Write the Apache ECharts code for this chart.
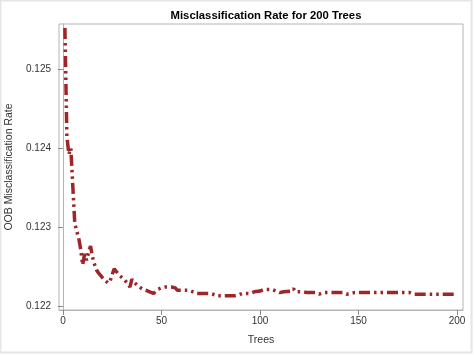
<!DOCTYPE html>
<html>
<head>
<meta charset="utf-8">
<script src="https://cdn.jsdelivr.net/npm/echarts@6/dist/echarts.min.js"></script>
<style>
html,body{margin:0;padding:0;background:#fff;}
#c{width:474px;height:355px;}
</style>
</head>
<body>
<div id="c"></div>
<script>
const titleText = "Misclassification Rate for 200 Trees";
const xName = "Trees";
const yName = "OOB Misclassification Rate";
const trees = [1,2,3,4,5,6,7,8,9,10,11,12,13,14,15,16,17,18,19,20,21,22,23,24,25,26,27,28,29,30,31,32,33,34,35,36,37,38,39,40,42,44,46,47,48,50,52,55,57,58,64,66,68,74,76,78,87,89,91,95,97,100,102,106,108,110,112,116,117,118,122,124,128,130,132,142,144,146,148,176,178,200];
const rates = [0.12552,0.12415,0.12392,0.12400,0.12352,0.12305,0.12295,0.12286,0.12272,0.12252,0.12266,0.12258,0.12268,0.12276,0.12262,0.12253,0.12246,0.12242,0.12239,0.12236,0.12233,0.12231,0.12229,0.12232,0.12240,0.12247,0.12244,0.12242,0.12238,0.12236,0.12234,0.12231,0.12228,0.12224,0.12234,0.12230,0.12228,0.12226,0.12224,0.12222,0.12220,0.12218,0.12216,0.12216,0.12221,0.12223,0.12224,0.12224,0.12223,0.12220,0.12220,0.12218,0.12216,0.12216,0.12215,0.12213,0.12213,0.12214,0.12216,0.12216,0.12218,0.12219,0.12221,0.12221,0.12219,0.12217,0.12218,0.12219,0.12222,0.12218,0.12218,0.12217,0.12217,0.12215,0.12217,0.12217,0.12215,0.12216,0.12217,0.12217,0.12215,0.12215];

const chart = echarts.init(document.getElementById('c'), null, {renderer:'canvas'});
const font = "'Liberation Sans', Arial, sans-serif";
chart.setOption({
  animation:false,
  backgroundColor:'#fff',
  title:{text:titleText,left:261,top:5,textAlign:'center',
    textStyle:{fontFamily:font,fontSize:11.3,fontWeight:'bold',color:'#000'}},
  grid:{left:59,top:24,right:11,bottom:45,containLabel:false,outerBoundsMode:'none',show:true,borderColor:'#b4b4b4',borderWidth:1,backgroundColor:'#fff'},
  xAxis:{type:'value',min:-2,max:203,splitNumber:4,
    name:xName,nameLocation:'middle',nameGap:25,
    nameTextStyle:{fontFamily:font,fontSize:10.5,color:'#333'},
    axisLine:{show:true,lineStyle:{color:'#b4b4b4'}},
    axisTick:{show:true,length:5,lineStyle:{color:'#888'}},
    axisLabel:{fontFamily:font,fontSize:10,color:'#333',margin:6,showMinLabel:false,showMaxLabel:false},
    splitLine:{show:false}},
  yAxis:{type:'value',min:0.12195,max:0.12557,splitNumber:4,
    name:yName,nameLocation:'middle',nameGap:40,
    nameTextStyle:{fontFamily:font,fontSize:10.5,color:'#333'},
    axisLine:{show:true,lineStyle:{color:'#b4b4b4'}},
    axisTick:{show:true,length:5,lineStyle:{color:'#888'}},
    axisLabel:{fontFamily:font,fontSize:10,color:'#333',margin:8,showMinLabel:false,showMaxLabel:false},
    splitLine:{show:false}},
  graphic:[{type:'rect',shape:{x:0.5,y:0.5,width:471,height:352},style:{fill:null,stroke:'#e6e6e6',lineWidth:2},silent:true}],
  series:[{type:'line',data:trees.map((t,i)=>[t,rates[i]]),showSymbol:false,symbol:'none',
    lineStyle:{color:'#9e2528',width:3.5,type:[11,4,2.5,4,2.5,4],cap:'butt'}}]
});
</script>
</body>
</html>
